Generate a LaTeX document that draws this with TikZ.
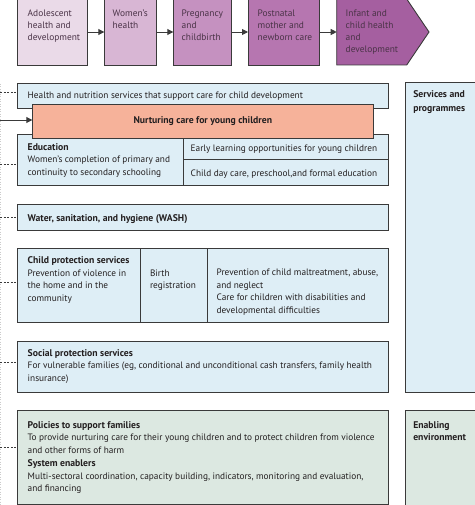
\documentclass[tikz,border=0pt]{standalone}
\usepackage{fontspec}
\setmainfont{PT Sans}
\usetikzlibrary{arrows.meta}
\definecolor{edge}{HTML}{3A3A3A}
\definecolor{ink}{HTML}{231F20}
\definecolor{tink}{HTML}{4A3347}
\definecolor{lblue}{HTML}{DEEEF6}
\definecolor{salmon}{HTML}{F6B29A}
\definecolor{lgreen}{HTML}{DCE8E1}
\definecolor{pA}{HTML}{EADAE8}
\definecolor{pB}{HTML}{D8B6D4}
\definecolor{pC}{HTML}{C591C0}
\definecolor{pD}{HTML}{B676B0}
\definecolor{pE}{HTML}{A55FA0}
\newcommand\hdfont{\fontsize{9.7}{12.6}\selectfont\bfseries}
\newcommand\rgfont{\fontsize{9.3}{12.6}\selectfont\mdseries}
\begin{document}
\begin{tikzpicture}[x=1pt,y=-1pt,
  box/.style={draw=edge, line width=0.9pt, rectangle, inner sep=0pt, outer sep=0pt, anchor=north west},
  txt/.style={anchor=base west, inner sep=0pt, outer sep=0pt, text=ink, font=\rgfont},
  ttxt/.style={txt, text=tink, font=\fontsize{9.4}{12}\selectfont},
  arr/.style={draw=edge, line width=0.9pt, -{Triangle[length=6pt,width=6pt]}},
  dsh/.style={draw=edge, line width=0.7pt, dash pattern=on 2pt off 1.6pt},
]
\useasboundingbox (0,0) rectangle (474,505);
% faint left dotted line
\draw[draw=black!20, line width=0.8pt, dash pattern=on 1pt off 1.5pt] (0.6,84) -- (0.6,505);

% ---------- top row ----------
\node[box, fill=pA, minimum width=70pt, minimum height=66pt] (t1) at (17.3,-1) {};
\node[box, fill=pB, minimum width=52pt, minimum height=66pt] (t2) at (104.3,-1) {};
\node[box, fill=pC, minimum width=58pt, minimum height=66pt] (t3) at (173.3,-1) {};
\node[box, fill=pD, minimum width=71pt, minimum height=66pt] (t4) at (248,-1) {};
\draw[draw=edge, line width=0.9pt, fill=pE, line join=miter]
  (336.7,-1) -- (406.7,-1) -- (429,32) -- (406.7,65) -- (336.7,65) -- cycle;
\coordinate (t5) at (336.7,32);
\node[ttxt] (tx1) at (27.7,16.3) {\parbox[t]{60pt}{Adolescent\\health and\\development}};
\node[ttxt] (tx2) at (112.7,16.3) {\parbox[t]{45pt}{Women’s\\health}};
\node[ttxt] (tx3) at (181.7,16.3) {\parbox[t]{50pt}{Pregnancy\\and\\childbirth}};
\node[ttxt] (tx4) at (257.7,16.3) {\parbox[t]{62pt}{Postnatal\\mother and\\newborn care}};
\node[ttxt] (tx5) at (345.7,16.3) {\parbox[t]{62pt}{Infant and\\child health\\and\\development}};
\draw[arr] (t1.east) -- (t2.west);
\draw[arr] (t2.east) -- (t3.west);
\draw[arr] (t3.east) -- (t4.west);
\draw[arr] (t4.east) -- (t5);

% ---------- services side boxes ----------
\node[box, fill=lblue, minimum width=80pt, minimum height=310pt] (serv) at (405.7,82.3) {};
\node[txt, font=\fontsize{9.7}{13.3}\selectfont\bfseries] (servt) at (413.3,98) {\parbox[t]{60pt}{Services and\\programmes}};
\node[box, fill=lgreen, minimum width=80pt, minimum height=100pt] (enab) at (405.7,410) {};
\node[txt, font=\fontsize{9.7}{12.3}\selectfont\bfseries] (enabt) at (413.3,428.5) {\parbox[t]{60pt}{Enabling\\environment}};

% ---------- health and nutrition ----------
\node[box, fill=lblue, minimum width=371pt, minimum height=25pt] (hn) at (17.3,83.3) {};
\node[txt] (hnt) at (27.7,98.5) {Health and nutrition services that support care for child development};

% ---------- education ----------
\node[box, fill=lblue, minimum width=371pt, minimum height=50.7pt] (edu) at (17.3,134.3) {};
\node[box, minimum width=205pt, minimum height=25pt] (edu1) at (183.3,134.3) {};
\node[box, minimum width=205pt, minimum height=25.7pt] (edu2) at (183.3,159.3) {};
\node[txt] (edut) at (27.7,150) {\parbox[t]{150pt}{\hdfont Education\\\rgfont Women’s completion of primary and\\continuity to secondary schooling}};
\node[txt] (edu1t) at (190.7,151.3) {Early learning opportunities for young children};
\node[txt] (edu2t) at (190.7,176.3) {Child day care, preschool,and formal education};

% ---------- nurturing care ----------
\node[box, fill=salmon, minimum width=341pt, minimum height=34pt] (nc) at (32.3,104.3) {};
\node[txt, anchor=center, font=\hdfont] (nct) at (nc.center) {Nurturing care for young children};

% ---------- WASH ----------
\node[box, fill=lblue, minimum width=371pt, minimum height=26pt] (wash) at (17.3,204) {};
\node[txt, font=\hdfont] (washt) at (27.7,221.3) {Water, sanitation, and hygiene (WASH)};

% ---------- child protection ----------
\node[box, fill=lblue, minimum width=371pt, minimum height=74.4pt] (cp) at (17.3,248.3) {};
\node[box, minimum width=67.3pt, minimum height=74.4pt] (cpb) at (140,248.3) {};
\node[txt] (cpt) at (27.7,263.7) {\parbox[t]{115pt}{\hdfont Child protection services\\\rgfont Prevention of violence in\\the home and in the\\community}};
\node[txt] (cpbt) at (150,276.3) {\parbox[t]{55pt}{Birth\\registration}};
\node[txt] (cprt) at (216.7,275.7) {\parbox[t]{170pt}{Prevention of child maltreatment, abuse,\\and neglect\\Care for children with disabilities and\\developmental difficulties}};

% ---------- social protection ----------
\node[box, fill=lblue, minimum width=371pt, minimum height=51.3pt] (sp) at (17.3,341) {};
\node[txt] (spt) at (27.7,356.3) {\parbox[t]{365pt}{\hdfont Social protection services\\\rgfont For vulnerable families (eg, conditional and unconditional cash transfers, family health\\insurance)}};

% ---------- policies ----------
\node[box, fill=lgreen, minimum width=371pt, minimum height=94pt] (pol) at (17.3,410) {};
\node[txt] (polt) at (27.7,428) {\parbox[t]{365pt}{\hdfont Policies to support families\\\rgfont To provide nurturing care for their young children and to protect children from violence\\and other forms of harm\\[0.8pt]\hdfont System enablers\\\rgfont Multi-sectoral coordination, capacity building, indicators, monitoring and evaluation,\\and financing}};

% ---------- left connectors ----------
\coordinate (l1) at (0,92.5);
\coordinate (l2) at (0,120);
\coordinate (l3) at (0,164);
\coordinate (l4) at (0,217);
\coordinate (l5) at (0,282);
\coordinate (l6) at (0,362);
\coordinate (l7) at (0,447);
\draw[dsh] (l1) -- (hn.west |- l1);
\draw[arr] (l2) -- (nc.west |- l2);
\draw[dsh] (l3) -- (edu.west |- l3);
\draw[dsh] (l4) -- (wash.west |- l4);
\draw[dsh] (l5) -- (cp.west |- l5);
\draw[dsh] (l6) -- (sp.west |- l6);
\draw[dsh] (l7) -- (pol.west |- l7);
\end{tikzpicture}
\end{document}
